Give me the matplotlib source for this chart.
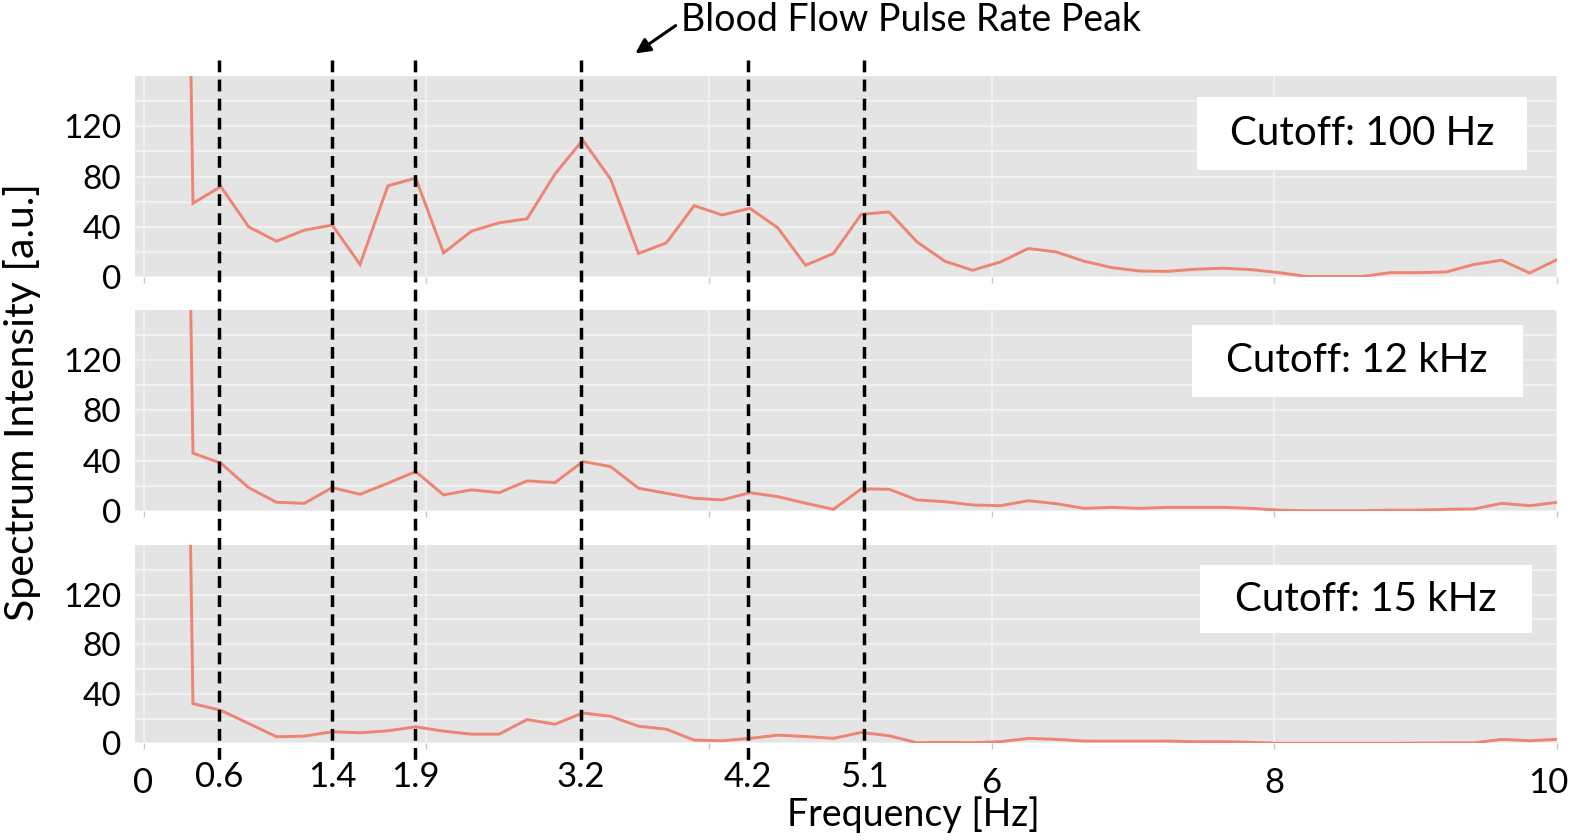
import matplotlib
matplotlib.use("Agg")
import matplotlib.pyplot as plt
from matplotlib.lines import Line2D
from matplotlib.patches import Rectangle, FancyArrowPatch
from matplotlib.transforms import blended_transform_factory, ScaledTranslation

plt.rcParams['font.family'] = ['Lato', 'DejaVu Sans']

# ---- data ----
FREQ = [0.153, 0.35, 0.547, 0.744, 0.941, 1.138, 1.335, 1.532, 1.729, 1.926, 2.123,
        2.32, 2.517, 2.714, 2.911, 3.108, 3.305, 3.502, 3.699, 3.896, 4.093,
        4.29, 4.487, 4.684, 4.881, 5.078, 5.275, 5.472, 5.669, 5.866, 6.063,
        6.26, 6.457, 6.654, 6.851, 7.048, 7.245, 7.442, 7.639, 7.836, 8.033,
        8.23, 8.427, 8.624, 8.821, 9.018, 9.215, 9.412, 9.609, 9.806, 10.003]

INT_100HZ = [1490, 58.7, 72, 40, 28.5, 37.3, 41.4, 10, 72.6, 78.7, 19.2,
             36.5, 43.2, 46.4, 82, 109, 77.9, 18.7, 27.2, 56.8, 49.4,
             54.7, 39.2, 9.4, 18.7, 49.9, 51.8, 28, 12.6, 5.4, 12,
             22.7, 20, 12.6, 7.5, 4.8, 4.5, 6.2, 7, 5.9, 3.5,
             0.5, 0.5, 0.5, 3.5, 3.5, 4, 10, 13.4, 3.2, 14]

INT_12KHZ = [1500, 45.9, 37.9, 18.4, 6.7, 5.9, 18.4, 13.1, 21.9, 31.2, 12.6,
             16.6, 14.4, 23.8, 22.4, 39.2, 35.2, 17.9, 13.9, 9.9, 8.6,
             14.4, 11.2, 6, 1.1, 17.4, 17.1, 8.6, 7.2, 4.6, 4,
             8, 5.6, 1.9, 2.7, 1.9, 2.7, 2.7, 2.7, 1.9, 0.5,
             0, 0, 0, 0.5, 0.5, 1.1, 1.4, 5.9, 4, 6.7]

INT_15KHZ = [1500, 32, 26.6, 16, 5.3, 5.8, 9.3, 8.5, 10.1, 13.3, 9.8,
             7.4, 7.4, 19.2, 15.4, 24.5, 21.8, 13.8, 11.4, 2.6, 2.1,
             4, 6.6, 5.5, 4, 8.8, 6.1, 0.5, 0.8, 0.5, 1.3,
             4, 3.2, 1.8, 1.8, 1.8, 1.8, 1.3, 1.3, 0.8, 0,
             0, 0, 0, 0, 0.2, 0.3, 0.3, 3.2, 2.1, 3.2]

SERIES = [INT_100HZ, INT_12KHZ, INT_15KHZ]
CUTOFF_LABELS = ["Cutoff: 100 Hz", "Cutoff: 12 kHz", "Cutoff: 15 kHz"]

PEAK_POS = [0.534, 1.334, 1.921, 3.096, 4.278, 5.099]
PEAK_LABELS = ["0.6", "1.4", "1.9", "3.2", "4.2", "5.1"]

# ---- layout ----
BG = "#E4E4E4"
LINE_COLOR = "#EE8473"
GRID_COLOR = "#F2F2F2"

fig = plt.figure(figsize=(15.7, 8.4), dpi=100)

panel_rects = [
    [0.086, 0.6702, 0.9057, 0.2393],
    [0.086, 0.3920, 0.9057, 0.2390],
    [0.086, 0.1151, 0.9057, 0.2361],
]
box_rects = [
    (0.747, 0.532, 0.232, 0.364),
    (0.743, 0.567, 0.233, 0.358),
    (0.749, 0.556, 0.2335, 0.343),
]

axes = []
for i, (rect, vals, lab, box) in enumerate(zip(panel_rects, SERIES, CUTOFF_LABELS, box_rects)):
    ax = fig.add_axes(rect)
    ax.set_facecolor(BG)
    ax.plot(FREQ, vals, color=LINE_COLOR, lw=2.1, solid_joinstyle="miter")
    ax.set_xlim(-0.06, 10.0)
    ax.set_ylim(0, 160)

    ax.set_yticks([0, 40, 80, 120])
    ax.set_yticks([20, 60, 100, 140], minor=True)
    ax.set_xticks([0, 2, 4, 6, 8, 10])
    ax.grid(True, which="both", axis="y", color=GRID_COLOR, lw=1.3)
    ax.grid(True, which="major", axis="x", color=GRID_COLOR, lw=1.3)
    ax.set_axisbelow(True)
    for s in ax.spines.values():
        s.set_visible(False)
    ax.tick_params(axis="y", which="both", length=0, labelsize=24, pad=10)
    ax.tick_params(axis="x", which="major", length=4, color="#C8C8C8", width=1)
    ax.tick_params(axis="x", which="minor", length=0)

    if i < 2:
        ax.set_xticklabels([])
    else:
        ax.set_xticklabels(["0", "", "", "6", "8", "10"], fontsize=25)
        ax.set_xticks(PEAK_POS, minor=True)
        ax.set_xticklabels(PEAK_LABELS, minor=True, fontsize=25)
        ax.tick_params(axis="x", which="both", pad=13)
        last = ax.get_xticklabels()[-1]
        last.set_transform(last.get_transform() + ScaledTranslation(-0.09, 0, fig.dpi_scale_trans))

    bx, by, bw, bh = box
    ax.add_patch(Rectangle((bx, by), bw, bh, transform=ax.transAxes,
                           facecolor="white", edgecolor="none", zorder=5))
    ax.text(bx + bw / 2, by + bh / 2, lab, transform=ax.transAxes,
            ha="center", va="center", fontsize=29, zorder=6)
    axes.append(ax)

# dashed peak markers spanning all three panels
trans = blended_transform_factory(axes[-1].transData, fig.transFigure)
for x in PEAK_POS:
    fig.add_artist(Line2D([x, x], [0.929, 0.095], transform=trans,
                          color="black", lw=2.5, linestyle=(0, (3.4, 2.1))))

fig.text(0.014, 0.521, "Spectrum Intensity [a.u.]", rotation=90,
         ha="center", va="center", fontsize=29.5)
fig.text(0.5815, 0.030, "Frequency [Hz]", ha="center", va="center", fontsize=27)

fig.text(0.4338, 0.976, "Blood Flow Pulse Rate Peak", ha="left", va="center", fontsize=27)
fig.add_artist(FancyArrowPatch((0.4318, 0.9714), (0.4032, 0.9345),
                               transform=fig.transFigure, arrowstyle="-|>",
                               mutation_scale=22, lw=2.2, color="black"))

fig.savefig("out.png", dpi=100)
